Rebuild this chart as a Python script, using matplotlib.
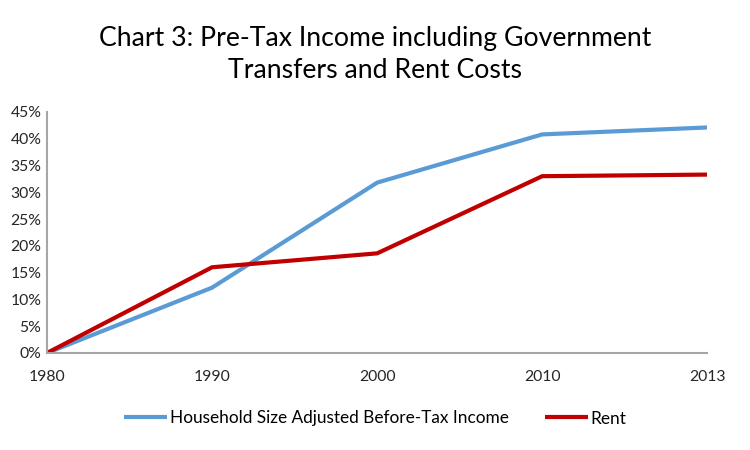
import matplotlib
matplotlib.use("Agg")
import matplotlib.pyplot as plt
from matplotlib.ticker import FuncFormatter

years = ["1980", "1990", "2000", "2010", "2013"]
income = [0.0, 12.2, 31.8, 40.8, 42.1]
rent = [0.0, 16.0, 18.6, 33.0, 33.3]
yticks = [0, 5, 10, 15, 20, 25, 30, 35, 40, 45]

plt.rcParams['font.family'] = ['Lato', 'DejaVu Sans']

fig = plt.figure(figsize=(7.5, 4.5), dpi=100)
ax = fig.add_axes([0.0627, 0.2156, 0.8803, 0.5357])
x = list(range(len(years)))
l1, = ax.plot(x, income, color="#5B9BD5", lw=3.0, solid_capstyle="butt", solid_joinstyle="miter",
              label="Household Size Adjusted Before-Tax Income")
l2, = ax.plot(x, rent, color="#C00000", lw=3.0, solid_capstyle="butt", solid_joinstyle="miter",
              label="Rent")
ax.set_xlim(0, len(years) - 1)
ax.set_ylim(0, 45)
ax.set_xticks(x)
ax.set_xticklabels(years)
ax.set_yticks(yticks)
ax.yaxis.set_major_formatter(FuncFormatter(lambda v, p: f"{int(v)}%"))
for s in ["top", "right"]:
    ax.spines[s].set_visible(False)
for s in ["left", "bottom"]:
    ax.spines[s].set_color("#A6A6A6")
    ax.spines[s].set_linewidth(1.5)
ax.tick_params(length=0, labelsize=11.3, colors="#262626", pad=4)
ax.tick_params(axis="x", pad=12)

fig.text(0.5, 0.915, "Chart 3: Pre-Tax Income including Government", ha="center", va="center",
         fontsize=19.2, color="#000000")
fig.text(0.5, 0.843, "Transfers and Rent Costs", ha="center", va="center",
         fontsize=19.2, color="#000000")

fig.legend(handles=[l1, l2], loc="center", bbox_to_anchor=(0.5, 0.07), ncol=2, frameon=False,
           fontsize=12.4, handlelength=2.5, handletextpad=0.15, columnspacing=2.1)

fig.savefig("out.png", dpi=100)
